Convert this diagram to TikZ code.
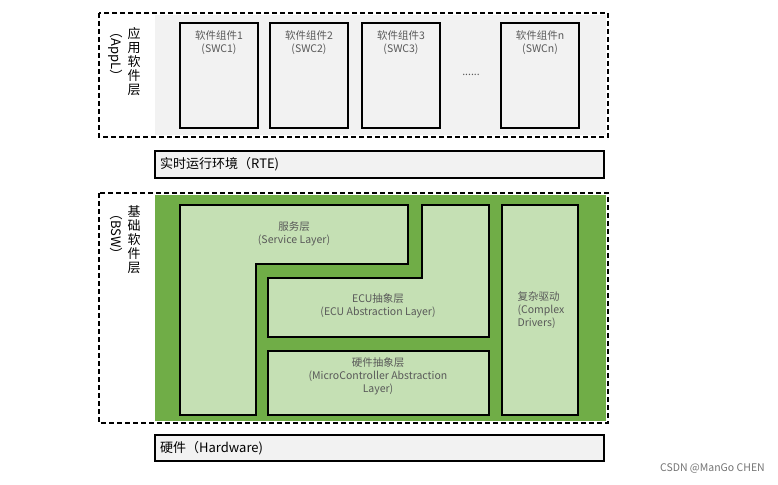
\documentclass[tikz,border=0pt]{standalone}
\usepackage{fontspec}
\setmainfont{Noto Sans CJK SC}
\begin{document}
\begin{tikzpicture}[x=1pt,y=-1pt,
 dbox/.style={draw=black,line width=1.3pt,dash pattern=on 5pt off 3pt},
 blk/.style={draw=black,line width=1.3pt},
 t/.style={font=\fontsize{10.5}{13}\selectfont,text=black!65,align=center,inner sep=0},
 b/.style={font=\fontsize{13}{15}\selectfont,text=black,inner sep=0,anchor=west},
 side/.style={font=\fontsize{13}{14}\selectfont,align=center,inner sep=0}]
\useasboundingbox (0,0) rectangle (778,484);
\definecolor{gr}{HTML}{70AD47}\definecolor{lg}{HTML}{C5E0B4}\definecolor{gy}{HTML}{F2F2F2}
% AppL
\fill[gy] (155,15) rectangle (606,135);
\draw[dbox] (99,13) rectangle (608,137);
\foreach \x/\n in {180/1,270/2,362/3,501/n}{
 \draw[blk] (\x,23) rectangle ++(78,105);
 \node[t] (swc\n) at (\x+39,43) {软件组件\n\\(SWC\n)};}
\node[t] (dots) at (471,75) {......};
\node[side] (appl) at (134,62) {应\\用\\软\\件\\层};
\node[side,rotate=-90] (appl2) at (116,54) {（AppL）};
% RTE
\draw[blk,fill=gy] (155,151) rectangle (604,178);
\node[b] (rte) at (160,164.5) {实时运行环境（RTE)};
% BSW
\fill[gr] (155,195) rectangle (606,421);
\draw[dbox] (99,193) rectangle (608,423);
\node[side] (bsw) at (134,240) {基\\础\\软\\件\\层};
\node[side,rotate=-90] (bsw2) at (116,234) {（BSW）};
\draw[blk,fill=lg] (180,205) -- (408,205) -- (408,264) -- (256,264) -- (256,415) -- (180,415) -- cycle;
\node[t] (svc) at (294,234) {服务层\\(Service Layer)};
\draw[blk,fill=lg] (268,278) -- (422,278) -- (422,205) -- (489,205) -- (489,337) -- (268,337) -- cycle;
\node[t] (ecu) at (378,306) {ECU抽象层\\(ECU Abstraction Layer)};
\draw[blk,fill=lg] (268,351) rectangle (489,415);
\node[t] (mcal) at (378,376) {硬件抽象层\\(MicroController Abstraction\\Layer)};
\draw[blk,fill=lg] (502,205) rectangle (578,415);
\node[t,align=left] (cdd) at (541,310) {复杂驱动\\(Complex\\Drivers)};
% HW
\draw[blk,fill=gy] (155,435) rectangle (604,461);
\node[b] (hw) at (160,448) {硬件（Hardware)};
\node[font=\fontsize{10.5}{12}\selectfont,text=black!55,anchor=east,inner sep=0] (wm) at (765,468) {CSDN @ManGo CHEN};
\end{tikzpicture}
\end{document}
